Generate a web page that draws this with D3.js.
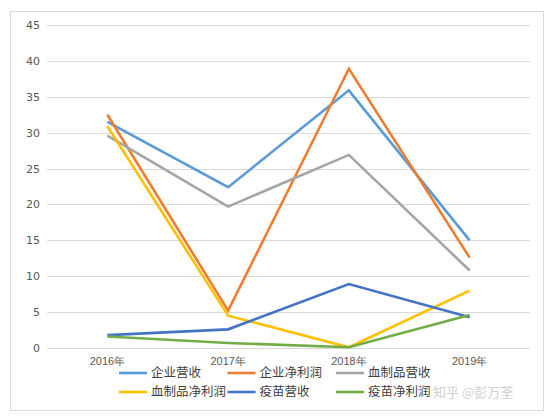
<!DOCTYPE html>
<html>
<head>
<meta charset="utf-8">
<script src="https://cdn.jsdelivr.net/npm/d3@7"></script>
<style>
  body { margin: 0; background: #fff; }
  svg { font-family: "Noto Sans CJK SC", "DejaVu Sans", sans-serif; }
</style>
</head>
<body>
<svg class="chart"></svg>
<script>
var width = 549,
    height = 418;

var years = ["2016年", "2017年", "2018年", "2019年"];
var yTicks = [0, 5, 10, 15, 20, 25, 30, 35, 40, 45];

var seriesNames = ["企业营收", "企业净利润", "血制品营收", "血制品净利润", "疫苗营收", "疫苗净利润"];
var qiyeYingshou = [31.5, 22.4, 35.9, 15.0];
var qiyeJinglirun = [32.5, 5.2, 38.9, 12.6];
var xuezhipinYingshou = [29.6, 19.7, 26.9, 10.8];
var xuezhipinJinglirun = [30.9, 4.5, 0.1, 8.0];
var yimiaoYingshou = [1.8, 2.6, 8.9, 4.3];
var yimiaoJinglirun = [1.6, 0.7, 0.1, 4.6];
var colors = ["#5b9bd5", "#ed7d31", "#a5a5a5", "#ffc000", "#4472c4", "#70ad47"];

var allSeries = [qiyeYingshou, qiyeJinglirun, xuezhipinYingshou, xuezhipinJinglirun, yimiaoYingshou, yimiaoJinglirun];

var svg = d3.select(".chart")
    .attr("width", width)
    .attr("height", height);

// outer frame
svg.append("rect")
    .attr("x", 10.5).attr("y", 11.5)
    .attr("width", 533).attr("height", 399)
    .attr("fill", "#fff")
    .attr("stroke", "#d9d9d9");

var x = d3.scaleBand()
    .domain(years)
    .range([47, 530]);

var y = d3.scaleLinear()
    .domain([0, 45])
    .range([348, 25]);

// grid
svg.append("g")
  .selectAll("line")
  .data(yTicks)
  .enter().append("line")
    .attr("x1", 47).attr("x2", 530)
    .attr("y1", d => Math.round(y(d)) + 0.5)
    .attr("y2", d => Math.round(y(d)) + 0.5)
    .attr("stroke", "#d9d9d9");

var yAxis = svg.append("g")
    .attr("transform", "translate(40,0)")
    .call(d3.axisLeft(y).tickValues(yTicks).tickSize(0).tickPadding(0));
yAxis.select(".domain").remove();
yAxis.selectAll("text")
    .attr("fill", "#595959")
    .style("font-size", "11px")
    .style("font-family", "'DejaVu Sans', sans-serif");

var xAxis = svg.append("g")
    .attr("transform", "translate(0,357)")
    .call(d3.axisBottom(x).tickSize(0).tickPadding(0));
xAxis.select(".domain").remove();
xAxis.selectAll("text")
    .attr("fill", "#595959")
    .style("font-size", "11px");

var line = d3.line()
    .x((d, i) => x(years[i]) + x.bandwidth() / 2)
    .y(d => y(d));

svg.append("g")
  .selectAll("path")
  .data(allSeries)
  .enter().append("path")
    .attr("d", d => line(d))
    .attr("fill", "none")
    .attr("stroke", (d, i) => colors[i])
    .attr("stroke-width", 2.6)
    .attr("stroke-linejoin", "miter");

// legend
var legend = svg.append("g")
  .selectAll("g")
  .data(seriesNames)
  .enter().append("g")
    .attr("transform", (d, i) => "translate(" + (119 + (i % 3) * 108.5) + "," + (373 + Math.floor(i / 3) * 19) + ")");

legend.append("line")
    .attr("x1", 0).attr("x2", 28)
    .attr("stroke", (d, i) => colors[i])
    .attr("stroke-width", 2.6);

legend.append("text")
    .attr("x", 32)
    .attr("dy", "0.35em")
    .attr("fill", "#404040")
    .style("font-size", "12.5px")
    .text(d => d);

// watermark
svg.append("text")
    .attr("x", 433).attr("y", 392)
    .attr("dy", "0.35em")
    .attr("fill", "#d0d0d0")
    .style("font-size", "13px")
    .text("知乎 @彭万荃");
</script>
</body>
</html>
